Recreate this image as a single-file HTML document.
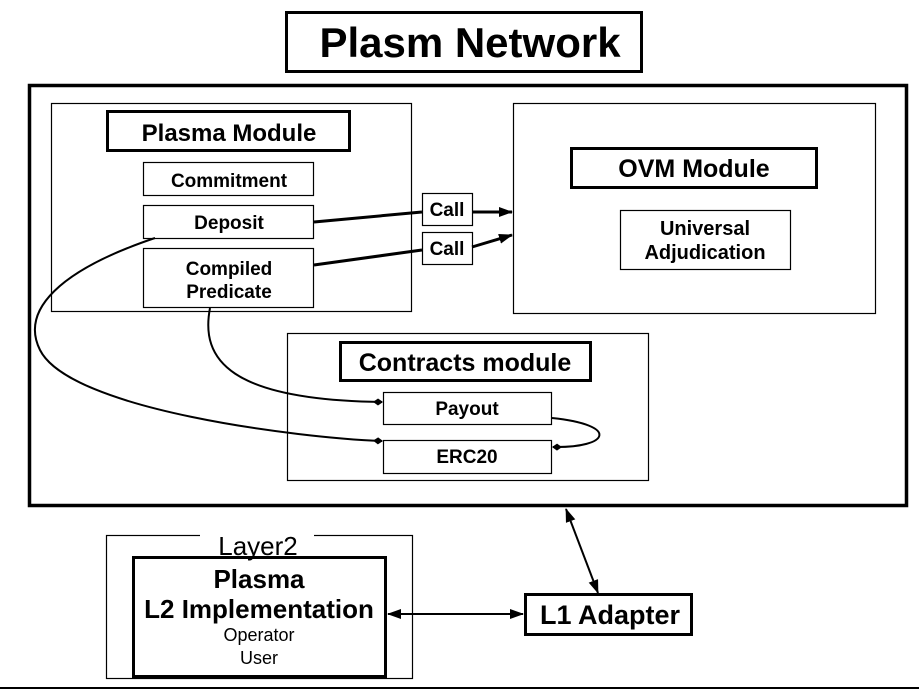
<!DOCTYPE html>
<html><head><meta charset="utf-8"><style>
body{margin:0;background:#fff}
svg{display:block}
text{font-family:"Liberation Sans",Arial,sans-serif;font-weight:bold;fill:#000;text-anchor:middle}
</style></head><body>
<svg width="919" height="692" viewBox="0 0 919 692" xmlns="http://www.w3.org/2000/svg">
<defs>
<marker id="ah" markerWidth="14" markerHeight="10" refX="13" refY="5" orient="auto" markerUnits="userSpaceOnUse"><path d="M0,0 L14,5 L0,10 z" fill="#000"/></marker>
<marker id="ahs" markerWidth="14" markerHeight="10" refX="1" refY="5" orient="auto" markerUnits="userSpaceOnUse"><path d="M14,0 L0,5 L14,10 z" fill="#000"/></marker>
<marker id="dm" markerWidth="10" markerHeight="8" refX="9" refY="4" orient="auto" markerUnits="userSpaceOnUse"><path d="M0,4 L5,0.5 L10,4 L5,7.5 z" fill="#000"/></marker>
</defs>
<g fill="#fff" stroke="#000">
<rect x="286.5" y="12.5" width="355" height="59" stroke-width="3"/>
<rect x="29.5" y="85.5" width="877" height="420" stroke-width="3.5"/>
<rect x="51.5" y="103.5" width="360" height="208" stroke-width="1.2"/>
<rect x="107.5" y="111.5" width="242" height="39" stroke-width="3"/>
<rect x="143.5" y="162.5" width="170" height="33" stroke-width="1.2"/>
<rect x="143.5" y="205.5" width="170" height="33" stroke-width="1.2"/>
<rect x="143.5" y="248.5" width="170" height="59" stroke-width="1.2"/>
<rect x="422.5" y="193.5" width="50" height="32" stroke-width="1.2"/>
<rect x="422.5" y="232.5" width="50" height="32" stroke-width="1.2"/>
<rect x="513.5" y="103.5" width="362" height="210" stroke-width="1.2"/>
<rect x="571.5" y="148.5" width="245" height="39" stroke-width="3"/>
<rect x="620.5" y="210.5" width="170" height="59" stroke-width="1.2"/>
<rect x="287.5" y="333.5" width="361" height="147" stroke-width="1.2"/>
<rect x="340.5" y="342.5" width="250" height="38" stroke-width="3"/>
<rect x="383.5" y="392.5" width="168" height="32" stroke-width="1.2"/>
<rect x="383.5" y="440.5" width="168" height="33" stroke-width="1.2"/>
<rect x="106.5" y="535.5" width="306" height="143" stroke-width="1.2"/>
<rect x="133.5" y="557.5" width="252" height="119" stroke-width="3"/>
<rect x="525.5" y="594.5" width="166" height="40" stroke-width="3"/>
</g>
<rect x="200" y="528" width="114" height="20" fill="#fff"/>
<line x1="0" y1="688" x2="919" y2="688" stroke="#000" stroke-width="2"/>
<g fill="none" stroke="#000" stroke-width="3">
<line x1="314" y1="222" x2="422" y2="212"/>
<line x1="472" y1="212" x2="512" y2="212" marker-end="url(#ah)"/>
<line x1="314" y1="265" x2="422" y2="250"/>
<line x1="472" y1="247" x2="512" y2="235" marker-end="url(#ah)"/>
</g>
<g fill="none" stroke="#000" stroke-width="2">
<path d="M155,238 C60,270 20,310 40,350 C70,410 300,438 382,441" marker-end="url(#dm)"/>
<path d="M210,308 C200,360 230,400 382,402" marker-end="url(#dm)"/>
<path d="M552,418 C620,425 610,448 553,447" marker-end="url(#dm)"/>
<line x1="388" y1="614" x2="523" y2="614" marker-start="url(#ahs)" marker-end="url(#ah)"/>
<line x1="566" y1="509" x2="598" y2="593" marker-start="url(#ahs)" marker-end="url(#ah)"/>
</g>
<text x="470" y="57" font-size="42">Plasm Network</text>
<text x="229" y="141" font-size="24">Plasma Module</text>
<text x="229" y="187" font-size="19">Commitment</text>
<text x="229" y="229" font-size="19">Deposit</text>
<text x="229" y="275" font-size="19">Compiled</text>
<text x="229" y="298" font-size="19">Predicate</text>
<text x="447" y="216" font-size="19">Call</text>
<text x="447" y="255" font-size="19">Call</text>
<text x="694" y="177" font-size="25">OVM Module</text>
<text x="705" y="235" font-size="20">Universal</text>
<text x="705" y="259" font-size="20">Adjudication</text>
<text x="465" y="371" font-size="25">Contracts module</text>
<text x="467" y="415" font-size="19">Payout</text>
<text x="467" y="463" font-size="19">ERC20</text>
<text x="258" y="555" font-size="26" style="font-weight:normal">Layer2</text>
<text x="259" y="588" font-size="26">Plasma</text>
<text x="259" y="618" font-size="26">L2 Implementation</text>
<text x="259" y="641" font-size="18" style="font-weight:normal">Operator</text>
<text x="259" y="664" font-size="18" style="font-weight:normal">User</text>
<text x="610" y="624" font-size="27">L1 Adapter</text>
</svg>
</body></html>
